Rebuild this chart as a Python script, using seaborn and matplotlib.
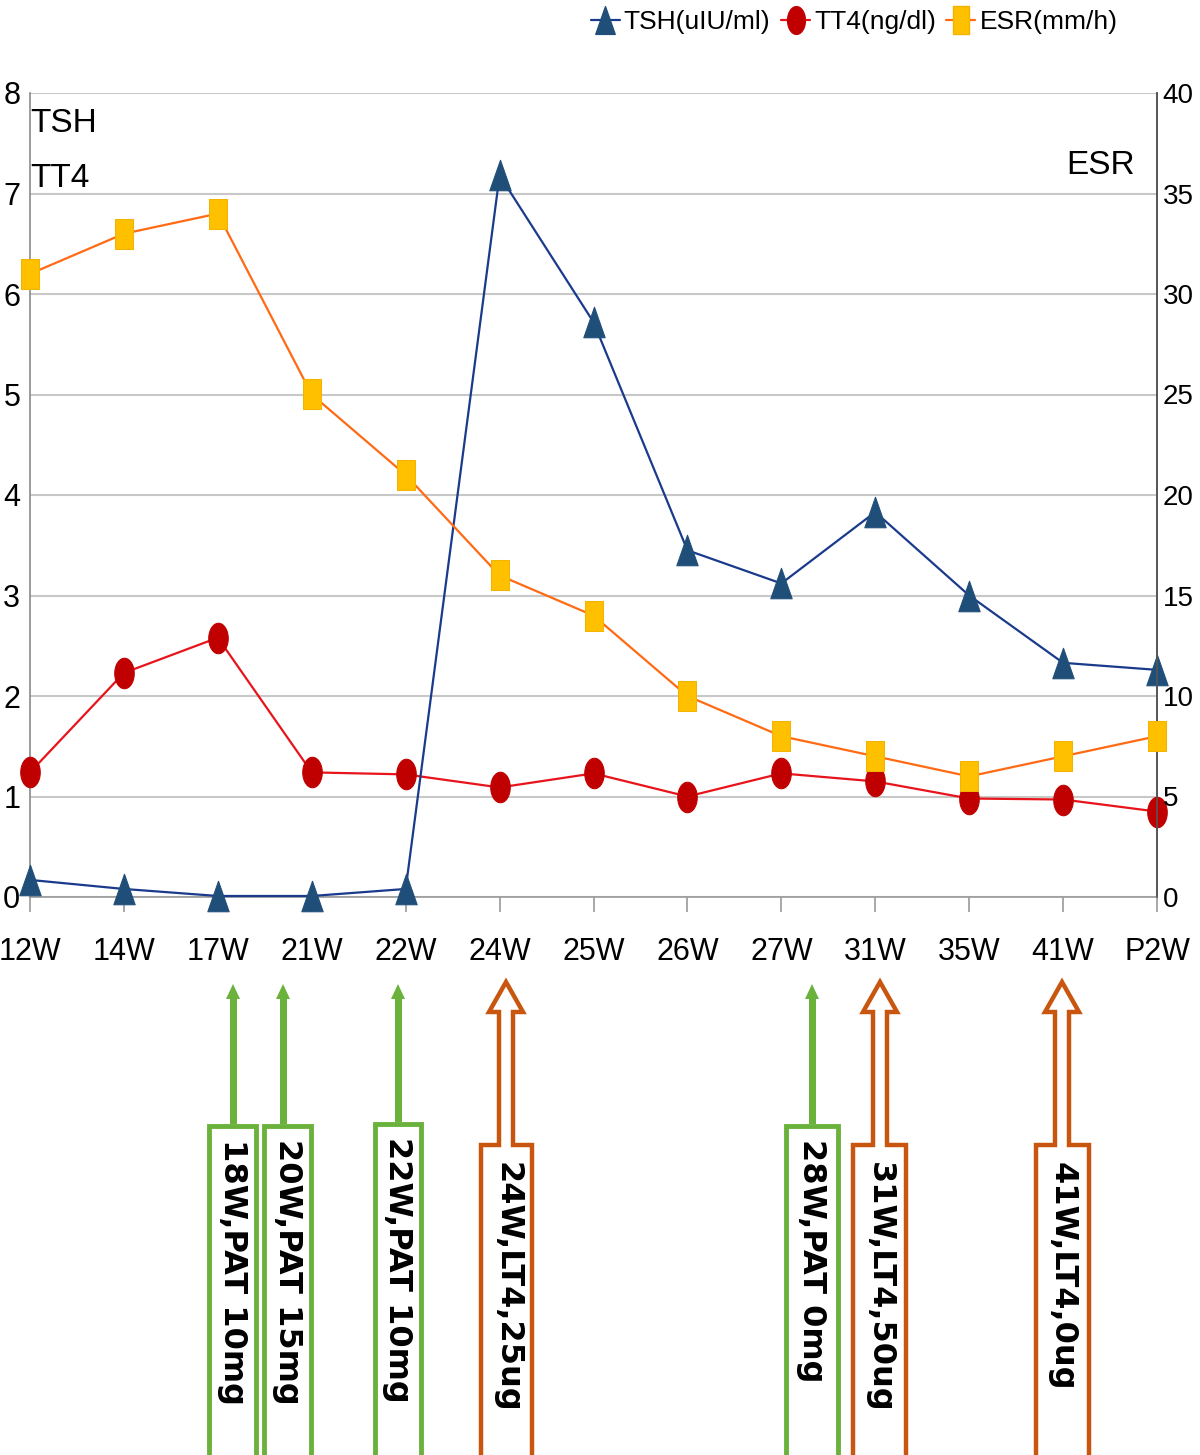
import numpy as np
import pandas as pd
import matplotlib
matplotlib.use("Agg")
import matplotlib.pyplot as plt
from matplotlib.path import Path
from matplotlib.lines import Line2D
from matplotlib.patches import Polygon, Rectangle
import seaborn as sns

# ---------------- data ----------------
weeks = ["12W", "14W", "17W", "21W", "22W", "24W", "25W", "26W", "27W", "31W", "35W", "41W", "P2W"]
tsh = [0.17, 0.08, 0.01, 0.01, 0.08, 7.18, 5.72, 3.45, 3.12, 3.83, 3.0, 2.33, 2.26]
tt4 = [1.24, 2.23, 2.58, 1.24, 1.22, 1.09, 1.23, 1.0, 1.23, 1.15, 0.98, 0.97, 0.85]
esr = [31, 33, 34, 25, 21, 16, 14, 10, 8, 7, 6, 7, 8]
series_labels = ["TSH(uIU/ml)", "TT4(ng/dl)", "ESR(mm/h)"]
left_ticks = [0, 1, 2, 3, 4, 5, 6, 7, 8]
right_ticks = [0, 5, 10, 15, 20, 25, 30, 35, 40]
treat_labels = ["18W,PAT 10mg", "20W,PAT 15mg", "22W,PAT 10mg", "24W,LT4,25ug",
                "28W,PAT 0mg", "31W,LT4,50ug", "41W,LT4,0ug"]
treat_kind = ["PAT", "PAT", "PAT", "LT4", "PAT", "LT4", "LT4"]

# ---------------- style ----------------
sns.set_theme(style="white")
plt.rcParams["font.family"] = ["Liberation Sans", "DejaVu Sans"]
plt.rcParams["text.color"] = "black"
plt.rcParams["axes.labelcolor"] = "black"

C_TSH_LINE, C_TSH_MK = "#1a3a8c", "#1f4e79"
C_TT4_LINE, C_TT4_MK = "#e8141b", "#c00000"
C_ESR_LINE, C_ESR_MK = "#ff6a13", "#ffc000"
C_GREEN, C_ORANGE = "#6ab23c", "#c8560f"

tri = Path([(-0.7, -1), (0.7, -1), (0, 1), (-0.7, -1)],
           [Path.MOVETO, Path.LINETO, Path.LINETO, Path.CLOSEPOLY])
t = np.linspace(0, 2 * np.pi, 40)
ell = Path(np.column_stack([0.64 * np.cos(t), np.sin(t)]))
sq = Path([(-0.58, -1), (0.58, -1), (0.58, 1), (-0.58, 1), (-0.58, -1)],
          [Path.MOVETO, Path.LINETO, Path.LINETO, Path.LINETO, Path.CLOSEPOLY])

df = pd.DataFrame({"week": weeks, "TSH": tsh, "TT4": tt4, "ESR": esr})

W, H = 1200, 1455
fig = plt.figure(figsize=(W / 100, H / 100), dpi=100)
ax = fig.add_axes([30 / W, 1 - 897 / H, (1157 - 30) / W, (897 - 93) / H])
ax2 = ax.twinx()

sns.lineplot(data=df, x="week", y="TSH", ax=ax, sort=False, color=C_TSH_LINE, lw=1.6,
             marker=tri, markersize=22, markerfacecolor=C_TSH_MK, markeredgecolor=C_TSH_MK,
             clip_on=False, zorder=5)
sns.lineplot(data=df, x="week", y="TT4", ax=ax, sort=False, color=C_TT4_LINE, lw=1.6,
             marker=ell, markersize=22, markerfacecolor=C_TT4_MK, markeredgecolor=C_TT4_MK,
             clip_on=False, zorder=4)
sns.lineplot(data=df, x="week", y="ESR", ax=ax2, sort=False, color=C_ESR_LINE, lw=1.6,
             marker=sq, markersize=22, markerfacecolor=C_ESR_MK, markeredgecolor="#f2b400",
             clip_on=False, zorder=4)

ax.set_xlim(0, len(weeks) - 1)
ax.set_ylim(0, 8)
ax2.set_ylim(0, 40)
ax.set_yticks(left_ticks)
ax2.set_yticks(right_ticks)
ax.set_xticks(range(len(weeks)))
ax.set_xticklabels(weeks)
for a in (ax, ax2):
    a.set_xlabel("")
    a.set_ylabel("")
ax.grid(axis="y", color="#c8c8c8", lw=1.5)
ax.grid(axis="x", visible=False)
ax2.grid(False)
ax2.patch.set_visible(False)

for a in (ax, ax2):
    a.spines["top"].set_visible(False)
    a.spines["left"].set_color("#8a8a8a")
    a.spines["bottom"].set_color("#9a9a9a")
    a.spines["right"].set_color("#555555")
    for s in a.spines.values():
        s.set_linewidth(1.2)
ax2.spines["left"].set_visible(False)
ax2.spines["bottom"].set_visible(False)

ax.tick_params(axis="y", length=0, pad=7, labelsize=22, labelcolor="black")
ax2.tick_params(axis="y", length=0, pad=4, labelsize=20, labelcolor="black")
ax.tick_params(axis="x", length=11, width=1.2, color="#9a9a9a", pad=18, labelsize=22,
               labelcolor="black", bottom=True)

ax.text(0.004, 7.7, "TSH", fontsize=24, ha="left", va="center", color="black")
ax.text(0.004, 7.15, "TT4", fontsize=24, ha="left", va="center", color="black")
ax2.text(11.76, 36.4, "ESR", fontsize=24, ha="right", va="center", color="black")

# legend
handles = [
    Line2D([], [], color=C_TSH_LINE, lw=1.6, marker=tri, markersize=20,
           markerfacecolor=C_TSH_MK, markeredgecolor=C_TSH_MK),
    Line2D([], [], color=C_TT4_LINE, lw=1.6, marker=ell, markersize=20,
           markerfacecolor=C_TT4_MK, markeredgecolor=C_TT4_MK),
    Line2D([], [], color=C_ESR_LINE, lw=1.6, marker=sq, markersize=20,
           markerfacecolor=C_ESR_MK, markeredgecolor="#f2b400"),
]
fig.legend(handles, series_labels, loc="center right", bbox_to_anchor=(1128 / W, 1 - 22 / H),
           ncol=3, frameon=False, fontsize=19, handlelength=1.1, handletextpad=0.15,
           columnspacing=0.4, borderaxespad=0, labelcolor="black")


# ---------------- treatment annotations (figure pixel geometry) ----------------
def P(x, y):
    return (x / W, 1 - y / H)


green_cx = [233, 283, 398, 812]
green_box = [(207, 258, 1124), (262, 313, 1124), (373, 423, 1122), (784, 840, 1124)]
orange_cx = [506, 880, 1062]
orange_box = [(479, 534, 1145), (851, 908, 1145), (1034, 1091, 1145)]

gi, oi = 0, 0
for lab, kind in zip(treat_labels, treat_kind):
    if kind == "PAT":
        cx = green_cx[gi]
        x0, x1, top = green_box[gi]
        gi += 1
        fig.add_artist(Rectangle(P(cx - 3.5, top), 7 / W, (top - 998) / H,
                                 transform=fig.transFigure, facecolor=C_GREEN,
                                 edgecolor="none"))
        fig.add_artist(Polygon([P(cx - 7, 999), P(cx + 7, 999), P(cx, 984)],
                               closed=True, transform=fig.transFigure,
                               facecolor=C_GREEN, edgecolor="none"))
        fig.add_artist(Rectangle(P(x0 + 2, 1462), (x1 - x0 - 4) / W, (1462 - top - 2) / H,
                                 transform=fig.transFigure, facecolor="white",
                                 edgecolor=C_GREEN, lw=3.5))
        fig.text(*P((x0 + x1) / 2, top + 15), lab, rotation=-90, ha="center", va="top",
                 fontsize=23, fontweight="bold", family="DejaVu Sans", color="black")
    else:
        cx = orange_cx[oi]
        x0, x1, top = orange_box[oi]
        oi += 1
        verts = [P(x0 + 2, 1462), P(x0 + 2, top), P(cx - 7, top), P(cx - 7, 1012),
                 P(cx - 17, 1012), P(cx, 982), P(cx + 17, 1012), P(cx + 7, 1012),
                 P(cx + 7, top), P(x1 - 2, top), P(x1 - 2, 1462)]
        fig.add_artist(Polygon(verts, closed=True, transform=fig.transFigure,
                               facecolor="white", edgecolor=C_ORANGE, lw=3.2,
                               joinstyle="miter"))
        fig.text(*P((x0 + x1) / 2, top + 17), lab, rotation=-90, ha="center", va="top",
                 fontsize=23, fontweight="bold", family="DejaVu Sans", color="black")

fig.savefig("out.png", dpi=100, facecolor="white")
